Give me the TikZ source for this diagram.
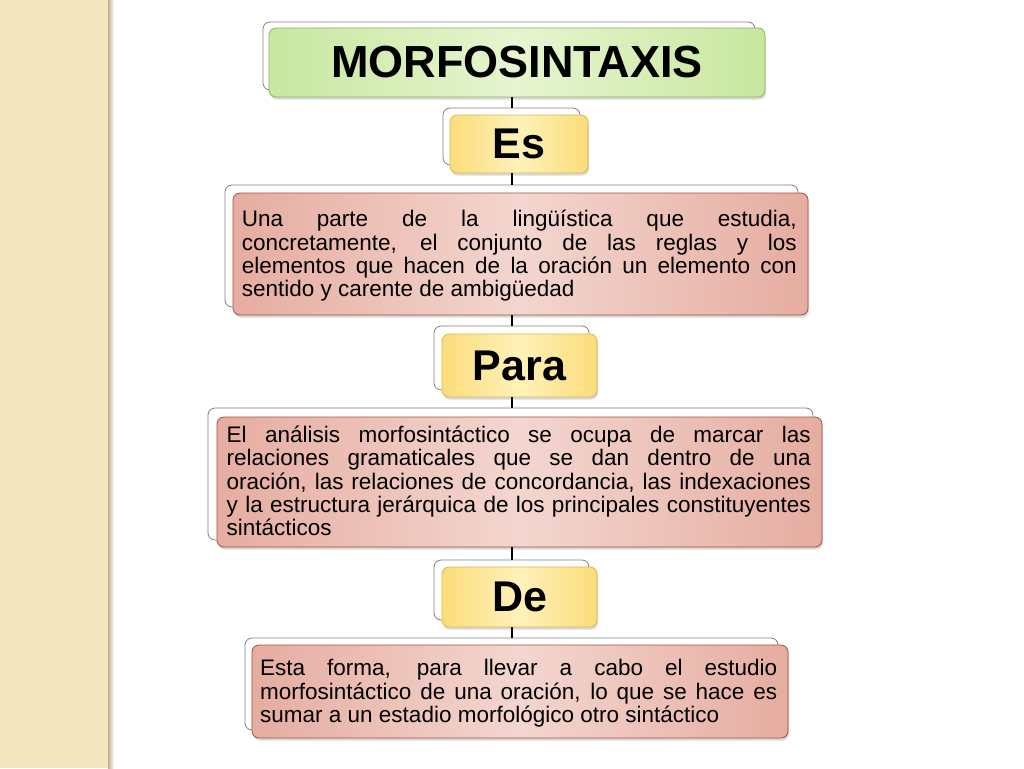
\documentclass[tikz,border=0pt]{standalone}
\usepackage{fontspec}
\setmainfont{Liberation Sans}
\usetikzlibrary{shadows}
\definecolor{beige}{RGB}{243,229,192}
\definecolor{beigeedge}{RGB}{190,176,142}
\definecolor{greenL}{RGB}{230,245,208}
\definecolor{greenD}{RGB}{200,231,160}
\definecolor{greenB}{RGB}{140,180,95}
\definecolor{yelL}{RGB}{255,241,185}
\definecolor{yelD}{RGB}{250,220,122}
\definecolor{yelB}{RGB}{222,182,78}
\definecolor{pinkL}{RGB}{243,214,207}
\definecolor{pinkD}{RGB}{230,172,160}
\definecolor{pinkB}{RGB}{160,82,62}
\newcommand{\mystrut}{\rule{0pt}{17pt}}
\begin{document}
\begin{tikzpicture}[x=1pt,y=-1pt,
  backbox/.style={draw=black!50, fill=white, rounded corners=7pt, line width=0.8pt, inner sep=0pt},
  front/.style={rounded corners=7pt, line width=0.8pt, inner sep=0pt,
    drop shadow={shadow xshift=1pt, shadow yshift=-2.5pt, opacity=0.3}},
  greenbox/.style={front, draw=greenB, left color=greenD, right color=greenD, middle color=greenL,
    font=\fontsize{45}{48}\selectfont\bfseries},
  yelbox/.style={front, draw=yelB, left color=yelD, right color=yelD, middle color=yelL,
    font=\fontsize{43}{46}\selectfont\bfseries},
  pinkbox/.style={front, draw=pinkB, left color=pinkD, right color=pinkD, middle color=pinkL},
  txt/.style={anchor=north west, inner sep=0pt, align=left},
  conn/.style={draw=black, line width=1.6pt}
]
\useasboundingbox (0,0) rectangle (1024,768);
% left strip
\fill[beige] (0,0) rectangle (108,768);
\shade[left color=beigeedge, right color=white] (108,0) rectangle (114,768);
\coordinate (lx) at (512,0);

% title
\node[backbox, minimum width=492pt, minimum height=68pt] (titleb) at (509,56) {};
\node[greenbox, minimum width=496pt, minimum height=69pt] (title) at (517,62.5) {MORFOSINTAXIS};

% Es
\node[backbox, minimum width=137pt, minimum height=57pt] (esb) at (511.5,136.5) {};
\node[yelbox, minimum width=138pt, minimum height=58pt] (es) at (519,144) {Es};

% box 1
\node[backbox, minimum width=573pt, minimum height=122pt] (b1b) at (511.5,246) {};
\node[pinkbox, minimum width=575pt, minimum height=122pt] (b1) at (520.5,254) {};
\node[txt, font=\fontsize{22.5}{23.4}\selectfont] (t1) at (241.6,209.5) {%
\mystrut\makebox[555pt][s]{Una parte de la lingüística que estudia,}\\
\makebox[555pt][s]{concretamente, el conjunto de las reglas y los}\\
\makebox[555pt][s]{elementos que hacen de la oración un elemento con}\\
sentido y carente de ambigüedad};

% Para
\node[backbox, minimum width=155pt, minimum height=64pt] (parab) at (511.5,358) {};
\node[yelbox, minimum width=155pt, minimum height=63pt] (para) at (519.5,365.5) {Para};

% box 2
\node[backbox, minimum width=605pt, minimum height=132pt] (b2b) at (510.5,474) {};
\node[pinkbox, minimum width=605pt, minimum height=130pt] (b2) at (519.5,482) {};
\node[txt, font=\fontsize{22.5}{23.3}\selectfont] (t2) at (226.5,425.3) {%
\mystrut\makebox[584pt][s]{El análisis morfosintáctico se ocupa de marcar las}\\
\makebox[584pt][s]{relaciones gramaticales que se dan dentro de una}\\
\makebox[584pt][s]{oración, las relaciones de concordancia, las indexaciones}\\
\makebox[584pt][s]{y la estructura jerárquica de los principales constituyentes}\\
sintácticos};

% De
\node[backbox, minimum width=155pt, minimum height=60pt] (deb) at (511.5,590) {};
\node[yelbox, minimum width=155pt, minimum height=60pt] (de) at (519.5,597) {De};

% box 3
\node[backbox, minimum width=533pt, minimum height=92pt] (b3b) at (511.5,684) {};
\node[pinkbox, minimum width=536pt, minimum height=93pt] (b3) at (520,691.5) {};
\node[txt, font=\fontsize{22.5}{23.2}\selectfont] (t3) at (260,658.7) {%
\mystrut\makebox[517pt][s]{Esta forma, para llevar a cabo el estudio}\\
\makebox[517pt][s]{morfosintáctico de una oración, lo que se hace es}\\
sumar a un estadio morfológico otro sintáctico};

% connectors
\draw[conn] (title.south -| lx) -- (esb.north -| lx);
\draw[conn] (es.south -| lx) -- (b1b.north -| lx);
\draw[conn] (b1.south -| lx) -- (parab.north -| lx);
\draw[conn] (para.south -| lx) -- (b2b.north -| lx);
\draw[conn] (b2.south -| lx) -- (deb.north -| lx);
\draw[conn] (de.south -| lx) -- (b3b.north -| lx);
\end{tikzpicture}
\end{document}
